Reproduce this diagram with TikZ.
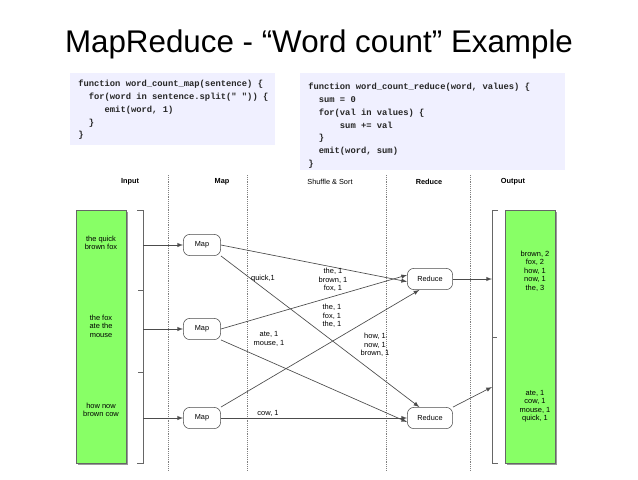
\documentclass[tikz,border=0pt]{standalone}
\usepackage{fontspec}
\setmainfont{Liberation Sans}
\setmonofont{Liberation Mono}
\begin{document}
\begin{tikzpicture}[x=0.75pt,y=-0.75pt,
  lbl/.style={font=\fontsize{5.6}{6.4}\selectfont,align=center,inner sep=0},
  hdr/.style={font=\fontsize{5.5}{6.5}\selectfont\bfseries,inner sep=0},
  box/.style={draw=black!70,rounded corners=5pt,fill=white,minimum width=28pt,minimum height=16pt,font=\fontsize{5.5}{6.5}\selectfont},
  rbox/.style={box,minimum width=34pt},
  arr/.style={->,>=latex,black!70,line width=0.5pt},
  ctext/.style={font=\fontsize{6.6}{9.6}\selectfont\ttfamily\bfseries,align=left,anchor=north west,inner sep=0,text=black!85},
  vline/.style={densely dotted,black!50,line width=0.4pt}]
\useasboundingbox (0,0) rectangle (638,479);
\node[font=\fontsize{23.5}{26}\selectfont] (title) at (319,44) {MapReduce - “Word count” Example};
\fill[blue!6] (70,73) rectangle (275,145);
\fill[blue!6] (300,73) rectangle (565,170);
\node[ctext] (c1) at (78,80) {function word\_count\_map(sentence) \{\\
\ \ for(word in sentence.split(" ")) \{\\
\ \ \ \ \ emit(word, 1)\\
\ \ \}\\
\}};
\node[ctext] (c2) at (308,83) {function word\_count\_reduce(word, values) \{\\
\ \ sum = 0\\
\ \ for(val in values) \{\\
\ \ \ \ \ \ sum += val\\
\ \ \}\\
\ \ emit(word, sum)\\
\}};
% headers
\node[hdr] (h1) at (130,182) {Input};
\node[hdr] (h2) at (222,182) {Map};
\node[hdr,font=\fontsize{5.5}{6.5}\selectfont] (h3) at (330,182) {Shuffle \& Sort};
\node[hdr] (h4) at (429,182) {Reduce};
\node[hdr] (h5) at (513,182) {Output};
\foreach \x in {168,247,386,470} \draw[vline] (\x,175) -- (\x,470);
% green boxes
\fill[black!40] (78,212) rectangle (128,465);
\draw[fill=green!70!lime!60,draw=black!60] (76,210) rectangle (126,463);
\fill[black!40] (507,212) rectangle (557,465);
\draw[fill=green!70!lime!60,draw=black!60] (505,210) rectangle (555,463);
% brackets
\draw[black!60,line width=0.5pt] (137,210) -- (143,210) -- (143,463) -- (137,463);
\draw[black!60,line width=0.5pt] (143,290) -- (138,290) (143,372) -- (138,372);
\draw[black!60,line width=0.5pt] (498,210) -- (492,210) -- (492,463) -- (498,463);
\draw[black!60,line width=0.5pt] (492,337) -- (497,337);
\coordinate (b1) at (143,245);
\coordinate (b2) at (143,329);
\coordinate (b3) at (143,418);
\coordinate (o1) at (492,279);
\coordinate (o2) at (492,387);
% texts
\node[lbl] (i1) at (101,243) {the quick\\brown fox};
\node[lbl] (i2) at (101,326) {the fox\\ate the\\mouse};
\node[lbl] (i3) at (101,410) {how now\\brown cow};
\node[lbl] (out1) at (535,271) {brown, 2\\fox, 2\\how, 1\\now, 1\\the, 3};
\node[lbl] (out2) at (535,406) {ate, 1\\cow, 1\\mouse, 1\\quick, 1};
% nodes
\node[box] (m1) at (202,245) {Map};
\node[box] (m2) at (202,329) {Map};
\node[box] (m3) at (202,418) {Map};
\node[rbox] (r1) at (430,279) {Reduce};
\node[rbox] (r2) at (430,418) {Reduce};
\draw[arr] (b1) -- (m1);
\draw[arr] (b2) -- (m2);
\draw[arr] (b3) -- (m3);
\draw[arr] (m1.east) -- ([yshift=-2]r1.west);
\draw[arr] (m1.south east) -- ([xshift=-8]r2.north);
\draw[arr] (m2.east) -- ([yshift=3]r1.west);
\draw[arr] (m2.south east) -- ([yshift=-3]r2.west);
\draw[arr] (m3.north east) -- ([xshift=-8]r1.south);
\draw[arr] (m3.east) -- (r2.west);
\draw[arr] (r1.east) -- (o1);
\draw[arr] (r2.north east) -- (o2);
% labels
\node[lbl] (l1) at (263,279) {quick,1};
\node[lbl] (l2) at (333,280) {the, 1\\brown, 1\\fox, 1};
\node[lbl] (l3) at (332,316) {the, 1\\fox, 1\\the, 1};
\node[lbl] (l4) at (269,339) {ate, 1\\mouse, 1};
\node[lbl] (l5) at (375,345) {how, 1\\now, 1\\brown, 1};
\node[lbl] (l6) at (268,413) {cow, 1};
\end{tikzpicture}
\end{document}
